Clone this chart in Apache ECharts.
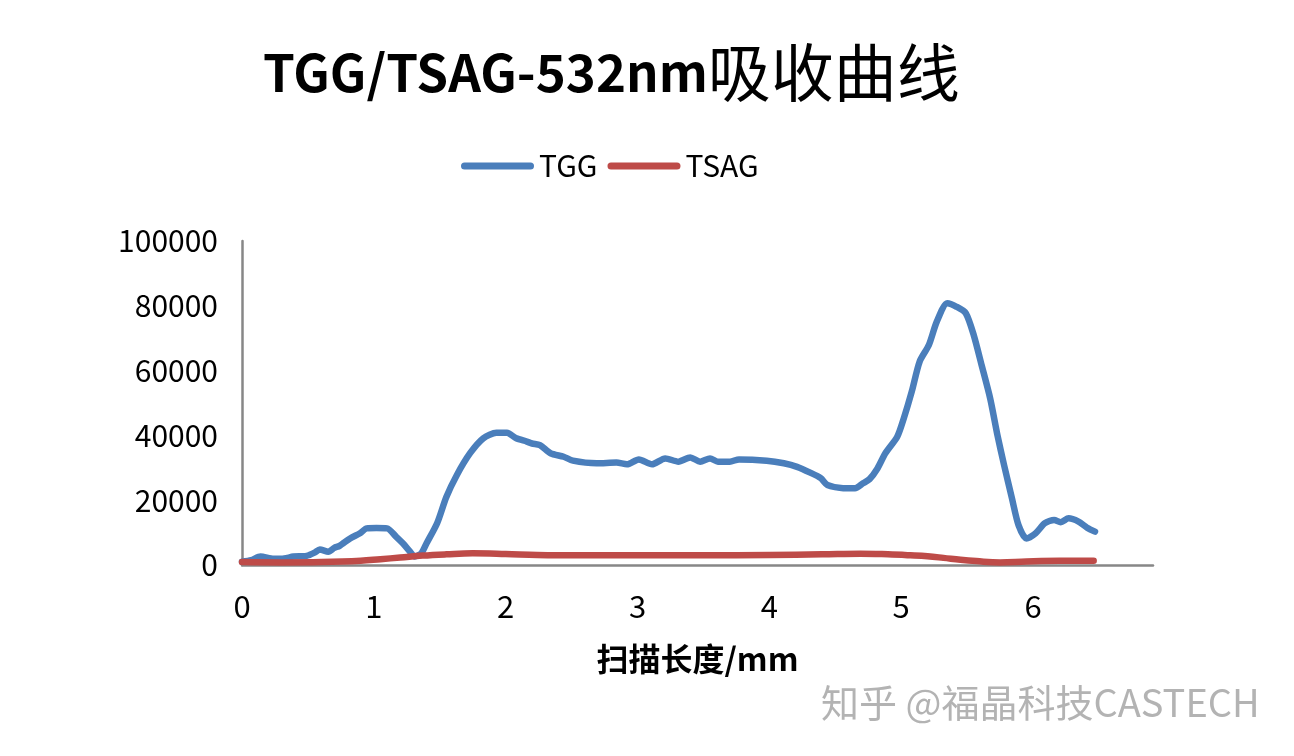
<!DOCTYPE html>
<html>
<head>
<meta charset="utf-8">
<script src="https://cdn.jsdelivr.net/npm/echarts@6/dist/echarts.min.js"></script>
<style>
html,body{margin:0;padding:0;background:#fff;}
#chart{width:1294px;height:756px;}
</style>
</head>
<body>
<div id="chart"></div>
<script>
// ---- data ----
const titleMain = 'TGG/TSAG-532nm';
const titleCjk = '吸收曲线';
const seriesNames = ['TGG', 'TSAG'];
const xAxisName = '扫描长度/mm';
const watermarkText = '知乎 @福晶科技CASTECH';

// TGG: scan position (mm) and absorption signal
const tggX = [0.00,0.07,0.14,0.24,0.32,0.39,0.49,0.55,0.59,0.655,0.70,0.74,0.82,0.895,0.946,1.02,1.10,1.17,1.22,1.275,1.31,1.36,1.40,1.48,1.55,1.63,1.73,1.83,1.93,2.01,2.08,2.16,2.20,2.26,2.34,2.44,2.51,2.69,2.84,2.92,3.01,3.11,3.21,3.31,3.40,3.475,3.55,3.61,3.70,3.77,3.98,4.11,4.21,4.31,4.39,4.44,4.56,4.65,4.71,4.76,4.82,4.88,4.97,5.02,5.08,5.14,5.21,5.27,5.35,5.42,5.49,5.55,5.61,5.675,5.73,5.78,5.84,5.89,5.95,6.02,6.09,6.16,6.21,6.27,6.345,6.41,6.47];
const tggY = [1000,1500,2600,1900,2000,2600,2800,3800,4800,4100,5300,5900,8200,9800,11300,11400,11300,8700,6700,4100,2600,3600,6700,12900,21000,27800,34500,39100,40800,40800,39100,38100,37500,37000,34500,33400,32200,31400,31600,31100,32600,31100,32900,31900,33200,31900,32900,31900,31900,32600,32200,31400,30300,28500,26800,24700,23700,23700,25200,26500,29800,34500,39600,45300,53500,62800,67900,75100,80800,79700,77700,71000,61700,51400,40100,30900,20600,12300,8200,9800,12900,13900,13200,14400,13400,11500,10300];

// TSAG
const tsagX = [0.0,0.3,0.6,0.9,1.05,1.2,1.37,1.55,1.75,2.0,2.24,2.6,3.0,3.5,4.0,4.4,4.69,4.9,5.07,5.2,5.32,5.45,5.57,5.75,5.95,6.2,6.46];
const tsagY = [900,800,900,1300,1800,2300,2900,3300,3600,3400,3100,3000,3000,3000,3100,3300,3500,3300,3000,2700,2200,1600,1200,800,1100,1300,1300];

const yTickLabels = ['0','20000','40000','60000','80000','100000'];
const xTickLabels = ['0','1','2','3','4','5','6'];

// ---- chart ----
const chart = echarts.init(document.getElementById('chart'));
const FONT = '"Noto Sans CJK SC", "Noto Sans", sans-serif';
const pairs = (xs, ys) => xs.map((x, i) => [x, ys[i]]);

chart.setOption({
  backgroundColor: '#ffffff',
  animation: false,
  title: {
    text: '{a|' + titleMain + '}{b|' + titleCjk + '}',
    left: 258,
    top: 36,
    textStyle: {
      rich: {
        a: { fontFamily: FONT, fontWeight: 'bold', fontSize: 51, color: '#000' },
        b: { fontFamily: FONT, fontWeight: 'normal', fontSize: 63, color: '#000' }
      }
    }
  },
  legend: {
    left: 456,
    top: 146,
    itemWidth: 73,
    itemHeight: 7,
    itemGap: 10,
    icon: 'path://M3.5,0H69.5A3.5,3.5,0,0,1,69.5,7H3.5A3.5,3.5,0,0,1,3.5,0Z',
    textStyle: { fontFamily: FONT, fontSize: 30, color: '#000' },
    data: seriesNames
  },
  grid: { left: 242, right: 141, top: 241, bottom: 191, containLabel: false },
  xAxis: {
    type: 'value',
    min: 0,
    max: 6.91,
    interval: 1,
    name: xAxisName,
    nameLocation: 'middle',
    nameGap: 78,
    nameTextStyle: { fontFamily: FONT, fontSize: 32, fontWeight: 'bold', color: '#000' },
    axisLine: { lineStyle: { color: '#878787', width: 2.5 } },
    axisTick: { show: false },
    splitLine: { show: false },
    axisLabel: {
      showMaxLabel: false,
      margin: 26,
      fontFamily: FONT,
      fontSize: 31,
      color: '#000',
      formatter: (v) => {
        const i = Math.round(v);
        return Math.abs(v - i) < 1e-6 && xTickLabels[i] !== undefined ? xTickLabels[i] : '';
      }
    }
  },
  yAxis: {
    type: 'value',
    min: 0,
    max: 100000,
    interval: 20000,
    axisLine: { show: true, lineStyle: { color: '#878787', width: 2.5 } },
    axisTick: { show: false },
    splitLine: { show: false },
    axisLabel: {
      margin: 24,
      fontFamily: FONT,
      fontSize: 30,
      color: '#000',
      formatter: (v) => yTickLabels[Math.round(v / 20000)]
    }
  },
  series: [
    {
      name: seriesNames[0],
      type: 'line',
      data: pairs(tggX, tggY),
      showSymbol: false,
      smooth: 0.25,
      color: '#4a7ebb',
      lineStyle: { width: 6.5, color: '#4a7ebb', cap: 'round', join: 'round' },
      z: 2
    },
    {
      name: seriesNames[1],
      type: 'line',
      data: pairs(tsagX, tsagY),
      showSymbol: false,
      smooth: 0.4,
      color: '#be4b48',
      lineStyle: { width: 6.5, color: '#be4b48', cap: 'round', join: 'round' },
      z: 3
    }
  ],
  graphic: [
    {
      type: 'text',
      left: 821,
      top: 684,
      style: {
        text: watermarkText,
        font: '38px "Noto Sans CJK SC", sans-serif',
        fill: '#b3b3b3'
      }
    }
  ]
});
</script>
</body>
</html>
